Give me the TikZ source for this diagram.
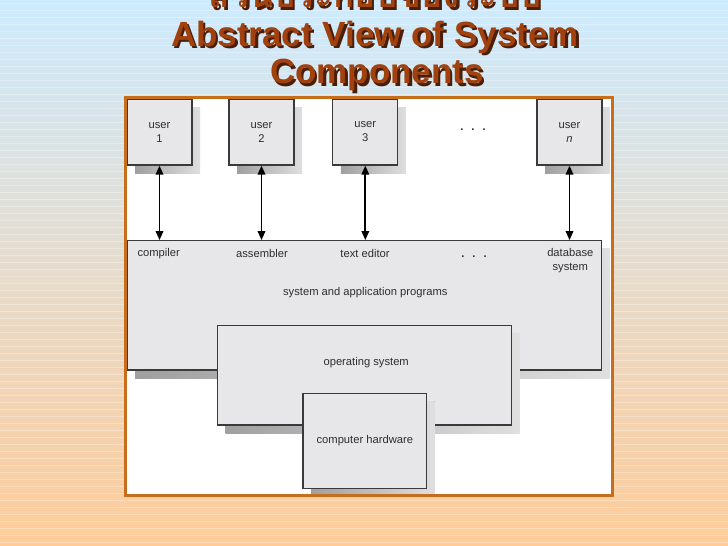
\documentclass[tikz,border=0pt]{standalone}
\usepackage{fontspec}
\setmainfont{Liberation Sans}
\newfontfamily\thaifont[Script=Thai]{Loma}
\usetikzlibrary{arrows.meta,shadows}
\definecolor{bgtop}{HTML}{CDEBFF}
\definecolor{bgmid}{HTML}{E2DED2}
\definecolor{bgbot}{HTML}{FFCC99}
\definecolor{framec}{HTML}{C66E1C}
\definecolor{titlec}{HTML}{A0410E}
\definecolor{titlesh}{HTML}{4A1E08}
\definecolor{boxfill}{HTML}{E7E7E9}
\definecolor{boxline}{HTML}{3A3A3A}
\definecolor{txt}{HTML}{2E2E2E}
\begin{document}
\begin{tikzpicture}[x=1pt,y=-1pt,
  box/.style={draw=boxline, line width=1.2pt, fill=boxfill, inner sep=0pt, text=txt,
    font=\fontsize{11.2}{14}\selectfont, align=center,
    drop shadow={shadow xshift=8pt, shadow yshift=-8pt, opacity=1, left color=gray!75, right color=gray!25}},
  lbl/.style={text=txt, inner sep=0pt, font=\fontsize{11.2}{14}\selectfont, align=center},
  tt/.style={anchor=base, inner sep=0pt, text=titlec, font=\fontsize{35}{38}\selectfont\bfseries},
  tsh/.style={anchor=base, inner sep=0pt, text=titlesh, font=\fontsize{35}{38}\selectfont\bfseries},
  arr/.style={{Triangle[length=9pt,width=7.5pt]}-{Triangle[length=9pt,width=7.5pt]}, line width=1.8pt, black}]
\useasboundingbox (0,0) rectangle (728,546);
\shade[top color=bgtop, middle color=bgmid, bottom color=bgbot] (0,0) rectangle (728,546);
\foreach \yy in {3,10,...,543} \draw[white, opacity=0.3, line width=0.7pt] (0,\yy) -- (728,\yy);
% title
\node[tsh] (t0s) at (377.5,10) {\thaifont\bfseries ส่วนประกอบของระบบ};
\node[tt] (t0) at (375,7.5) {\thaifont\bfseries ส่วนประกอบของระบบ};
\node[tsh] (t1s) at (377.5,48.5) {Abstract View of System};
\node[tt] (t1) at (375,46) {Abstract View of System};
\node[tsh] (t2s) at (379.5,86) {Components};
\node[tt] (t2) at (377,83.5) {Components};
% frame interior
\fill[white] (125.5,97.5) rectangle (612.5,495.5);
% users
\node[box, minimum width=65pt, minimum height=66pt] (u1) at (159.5,132) {user\\1};
\node[box, minimum width=65pt, minimum height=66pt] (u2) at (261.5,132) {user\\2};
\node[box, minimum width=65pt, minimum height=66pt] (u3) at (365.3,132) {user\\3};
\node[box, minimum width=65pt, minimum height=66pt] (un) at (569.5,132) {user\\\textit{n}};
\node[lbl, anchor=base] (dots1) at (473,130) {\textbf{.\hspace{8pt}.\hspace{8pt}.}};
% layers
\node[box, minimum width=474.7pt, minimum height=129.3pt] (prog) at (364.35,305.35) {};
\node[lbl] (lcomp) at (158.7,253.3) {compiler};
\node[lbl] (lasm) at (262,253.3) {assembler};
\node[lbl] (ltxt) at (365,253.3) {text editor};
\node[lbl, anchor=base] (dots2) at (474,257) {\textbf{.\hspace{8pt}.\hspace{8pt}.}};
\node[lbl] (ldb) at (570.3,260.8) {database\\system};
\node[lbl] (lsys) at (365.3,292.7) {system and application programs};
\node[box, minimum width=294.4pt, minimum height=99.3pt] (os) at (364.5,375.35) {};
\node[lbl] (los) at (366.2,362.7) {operating system};
\node[box, minimum width=123.7pt, minimum height=95pt] (hw) at (364.85,440.8) {computer hardware};
% arrows
\draw[arr] (u1.south) -- (u1.south |- prog.north);
\draw[arr] (u2.south) -- (u2.south |- prog.north);
\draw[arr] (u3.south) -- (u3.south |- prog.north);
\draw[arr] (un.south) -- (un.south |- prog.north);
% frame border
\draw[framec, line width=3pt] (125.5,97.5) rectangle (612.5,495.5);
\end{tikzpicture}
\end{document}
